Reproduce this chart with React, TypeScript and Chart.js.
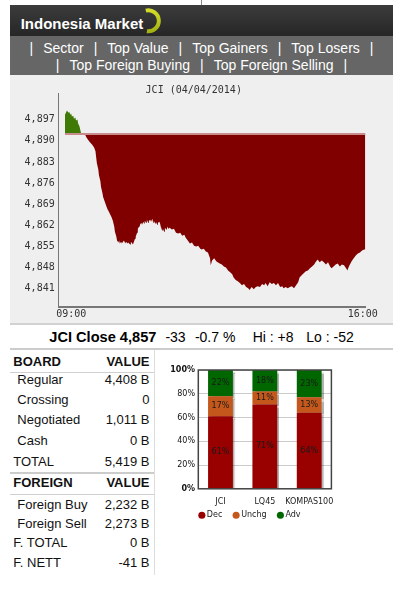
import React, { useEffect, useRef } from 'react';
import { Chart, registerables } from 'chart.js';

Chart.register(...registerables);

// ---------- Intraday JCI data (minutes from 09:00, index value) ----------
const TIME_MIN = [-9,-7,-6,-4,-3,-1,0,1,3,4,6,7,9,10,12,13,14,16,17,19,20,22,24,27,30,33,35,36,37,39,40,42,43,45,46,49,52,55,58,60,62,63,65,66,68,69,70,72,73,76,78,79,81,82,85,86,88,89,91,92,93,95,96,98,99,101,102,104,105,106,108,109,111,112,114,115,117,118,119,121,122,124,125,127,128,129,131,132,134,135,137,138,140,142,145,148,151,154,157,160,163,165,168,171,174,177,180,183,186,188,191,194,197,200,201,203,206,209,211,214,217,220,223,226,229,232,234,237,240,243,246,249,252,255,257,260,263,266,269,272,275,278,280,283,286,289,292,295,298,301,304,306,309,312,315,318,321,324,327,329,332,335,338,341,344,347,350,352,355,358,361,364,367,370,373,375,378,381,384,387,390,393,396,398,399,401,404,407,410,413,416,419,422,424];
const JCI_VALUES = [4898.6,4899.6,4900.0,4899.3,4899.6,4898.6,4899.0,4898.0,4898.3,4897.3,4897.7,4896.7,4897.0,4895.7,4894.7,4893.7,4892.7,4892.1,4892.7,4891.8,4892.1,4891.1,4890.4,4889.5,4888.8,4887.8,4886.5,4884.5,4882.6,4880.6,4878.6,4876.7,4874.7,4872.7,4871.4,4869.4,4867.5,4866.2,4864.8,4863.5,4861.6,4859.9,4858.3,4857.0,4856.3,4857.0,4856.0,4856.6,4856.0,4857.0,4856.0,4856.6,4856.0,4856.3,4855.7,4856.6,4856.0,4855.7,4857.0,4857.6,4858.3,4859.6,4860.9,4861.6,4862.2,4862.9,4862.2,4863.2,4862.6,4863.5,4862.9,4863.9,4862.9,4863.5,4863.9,4863.2,4864.2,4862.9,4863.5,4862.6,4863.2,4862.2,4862.9,4863.2,4862.6,4861.6,4860.3,4860.9,4859.9,4861.2,4860.6,4861.6,4860.9,4861.2,4860.6,4860.9,4859.6,4859.3,4859.6,4858.6,4858.9,4857.9,4857.0,4856.0,4856.3,4855.3,4855.0,4855.3,4854.3,4854.0,4854.3,4853.4,4853.0,4851.1,4848.8,4850.4,4851.1,4850.1,4849.8,4849.4,4849.1,4848.4,4848.1,4847.1,4846.5,4845.8,4844.8,4843.9,4843.5,4842.9,4842.2,4842.6,4841.6,4841.2,4840.6,4841.6,4840.9,4841.6,4841.9,4841.6,4842.6,4842.2,4842.9,4841.9,4843.2,4842.6,4842.9,4842.2,4842.9,4841.6,4841.9,4841.2,4841.6,4841.2,4841.6,4841.9,4841.2,4842.2,4843.2,4844.8,4845.5,4846.2,4846.8,4847.1,4847.8,4848.4,4849.1,4849.8,4850.7,4849.8,4850.4,4849.8,4849.1,4849.8,4848.4,4847.8,4848.4,4849.1,4849.4,4848.4,4849.1,4848.8,4847.8,4847.1,4847.8,4848.8,4850.1,4851.1,4852.0,4852.7,4853.0,4853.7,4854.0,4854.0];
const PREV_CLOSE = 4892.2;
const Y_MIN = 4835.1;
const Y_MAX = 4905.8;
const Y_TICKS = [4841, 4848, 4855, 4862, 4869, 4876, 4883, 4890, 4897];
const X_MIN = -18;
const X_MAX = 424;
const X_TICKS = [0, 420];
const X_TICK_LABELS = ['09:00', '16:00'];
const CHART_TITLE = 'JCI (04/04/2014)';

// ---------- Market breadth ----------
const BREADTH_CATEGORIES = ['JCI', 'LQ45', 'KOMPAS100'];
const DEC = [61, 71, 64];
const UNCHG = [17, 11, 13];
const ADV = [22, 18, 23];
const BREADTH_TICKS = [0, 20, 40, 60, 80, 100];

// ---------- Texts ----------
const NAV_LINE_1 = ['Sector', 'Top Value', 'Top Gainers', 'Top Losers'];
const NAV_LINE_2 = ['Top Foreign Buying', 'Top Foreign Selling'];
const BOARD_ROWS: [string, string][] = [['Regular', '4,408 B'], ['Crossing', '0'], ['Negotiated', '1,011 B'], ['Cash', '0 B']];
const BOARD_TOTAL: [string, string] = ['TOTAL', '5,419 B'];
const FOREIGN_ROWS: [string, string][] = [['Foreign Buy', '2,232 B'], ['Foreign Sell', '2,273 B']];
const FOREIGN_TOTALS: [string, string][] = [['F. TOTAL', '0 B'], ['F. NETT', '-41 B']];

const FONT = 'Arial, "Liberation Sans", Helvetica, sans-serif';
const MONO = '"DejaVu Sans Mono", "Liberation Mono", monospace';
const SMALL = '"DejaVu Sans", Verdana, sans-serif';

const barShadow = {
  id: 'barShadow',
  beforeDatasetsDraw(chart: any) {
    const c = chart.ctx;
    c.save();
    c.shadowColor = 'rgba(0,0,0,0.3)';
    c.shadowOffsetX = 2;
    c.shadowOffsetY = 2;
    c.shadowBlur = 1;
  },
  afterDatasetsDraw(chart: any) {
    chart.ctx.restore();
  },
};

const segmentLabels = {
  id: 'segmentLabels',
  afterDatasetsDraw(chart: any) {
    const ctx = chart.ctx;
    ctx.save();
    ctx.font = `8px ${SMALL}`;
    ctx.fillStyle = '#1a1a1a';
    ctx.textAlign = 'center';
    ctx.textBaseline = 'middle';
    chart.data.datasets.forEach((ds: any, di: number) => {
      chart.getDatasetMeta(di).data.forEach((el: any, i: number) => {
        const p = el.getProps(['x', 'y', 'base'], true);
        ctx.fillText(ds.data[i] + '%', p.x, (p.y + p.base) / 2);
      });
    });
    ctx.restore();
  },
};

const plotFrame = {
  id: 'plotFrame',
  afterDatasetsDraw(chart: any) {
    const { ctx, chartArea: a } = chart;
    ctx.save();
    ctx.strokeStyle = '#444';
    ctx.lineWidth = 1.5;
    ctx.strokeRect(a.left, a.top, a.right - a.left, a.bottom - a.top);
    ctx.restore();
  },
};

// tucks the legend closer to the category labels
const legendNudge = {
  id: 'legendNudge',
  afterLayout(chart: any) {
    const l = chart.legend;
    if (l) {
      l.top -= 8.5;
      l.bottom -= 8.5;
      l.left += 5;
      l.right += 5;
    }
  },
};

function NavLine({ items, top }: { items: string[]; top: number }) {
  return (
    <div style={{ position: 'absolute', left: 10, width: 383, top, textAlign: 'center', whiteSpace: 'nowrap', fontSize: 14, lineHeight: '17px', color: '#fff' }}>
      <span>|</span>
      {items.map((it) => (
        <React.Fragment key={it}>
          <span style={{ margin: '0 10px' }}>{it}</span>
          <span>|</span>
        </React.Fragment>
      ))}
    </div>
  );
}

function Row({ label, value, center, bold, indent }: { label: string; value: string; center: number; bold?: boolean; indent?: boolean }) {
  return (
    <div style={{ position: 'absolute', left: 10, width: 139.5, top: center - 10, height: 20, lineHeight: '20px', fontSize: 13, fontWeight: bold ? 'bold' : 'normal', color: '#111', whiteSpace: 'nowrap' }}>
      <span style={{ position: 'absolute', left: indent ? 7.3 : 3.3 }}>{label}</span>
      <span style={{ position: 'absolute', right: 0 }}>{value}</span>
    </div>
  );
}

function HLine({ top, left, width, h, color }: { top: number; left: number; width: number; h: number; color: string }) {
  return <div style={{ position: 'absolute', top, left, width, height: h, background: color }} />;
}

export default function App() {
  const mainRef = useRef<HTMLCanvasElement>(null);
  const breadthRef = useRef<HTMLCanvasElement>(null);

  useEffect(() => {
    const points = TIME_MIN.map((t, i) => ({ x: t, y: JCI_VALUES[i] }));
    const c1 = new Chart(mainRef.current as HTMLCanvasElement, {
      type: 'line',
      data: {
        datasets: [
          {
            label: 'Previous close',
            data: [
              { x: TIME_MIN[0], y: PREV_CLOSE },
              { x: TIME_MIN[TIME_MIN.length - 1], y: PREV_CLOSE },
            ],
            borderColor: '#c98b8b',
            borderWidth: 2,
            pointRadius: 0,
            fill: false,
            order: 0,
          },
          {
            label: 'JCI',
            data: points,
            borderColor: 'rgba(0,0,0,0)',
            borderWidth: 1,
            pointRadius: 0,
            fill: { target: { value: PREV_CLOSE }, above: '#3f7a06', below: '#800000' },
            order: 1,
          },
        ],
      } as any,
      options: {
        animation: false,
        responsive: false,
        events: [],
        layout: { padding: { left: 0, right: 27.5, top: 0, bottom: 2.3 } },
        plugins: {
          legend: { display: false },
          tooltip: { enabled: false },
          title: {
            display: true,
            text: CHART_TITLE,
            color: '#333',
            font: { family: MONO, size: 10, weight: 'normal', lineHeight: 0.6 },
            padding: { top: 12, bottom: 0 },
          },
        },
        scales: {
          x: {
            type: 'linear',
            min: X_MIN,
            max: X_MAX,
            grid: { display: false, drawTicks: false },
            border: { display: true, color: '#777', width: 2 },
            afterBuildTicks: (s: any) => { s.ticks = X_TICKS.map((v) => ({ value: v })); },
            afterFit: (s: any) => { s.height = 14; },
            ticks: {
              autoSkip: false,
              maxRotation: 0,
              padding: 2,
              color: '#333',
              font: { family: MONO, size: 10 },
              callback: (_v: any, i: number) => X_TICK_LABELS[i],
            },
          },
          y: {
            type: 'linear',
            min: Y_MIN,
            max: Y_MAX,
            grid: { display: false, drawTicks: false },
            border: { display: true, color: '#777', width: 1 },
            afterBuildTicks: (s: any) => { s.ticks = Y_TICKS.map((v) => ({ value: v })); },
            afterFit: (s: any) => { s.width = 36.7; },
            ticks: {
              padding: 4,
              color: '#333',
              font: { family: MONO, size: 10 },
              callback: (v: any) => Number(v).toLocaleString('en-US'),
            },
          },
        },
      } as any,
    });

    const c2 = new Chart(breadthRef.current as HTMLCanvasElement, {
      type: 'bar',
      data: {
        labels: BREADTH_CATEGORIES,
        datasets: [
          { label: 'Dec', data: DEC, backgroundColor: '#990000' },
          { label: 'Unchg', data: UNCHG, backgroundColor: '#c4581c' },
          { label: 'Adv', data: ADV, backgroundColor: '#006600' },
        ],
      },
      options: {
        animation: false,
        responsive: false,
        events: [],
        layout: { padding: { top: 10, right: 19.6, bottom: 0.3, left: 0 } },
        datasets: { bar: { categoryPercentage: 1, barPercentage: 0.56 } },
        plugins: {
          tooltip: { enabled: false },
          legend: {
            position: 'bottom',
            labels: {
              usePointStyle: true,
              pointStyle: 'circle',
              boxWidth: 2,
              boxHeight: 5,
              padding: 12.8,
              color: '#222',
              font: { family: SMALL, size: 8 },
            },
          },
        },
        scales: {
          x: {
            stacked: true,
            grid: { display: false, drawTicks: false },
            border: { display: false },
            afterFit: (s: any) => { s.height = 18.1; },
            ticks: { autoSkip: false, maxRotation: 0, minRotation: 0, padding: 8.5, color: '#222', font: { family: SMALL, size: 8 } },
          },
          y: {
            stacked: true,
            min: 0,
            max: 100,
            grid: { color: '#cccccc', drawTicks: false },
            border: { display: false },
            afterBuildTicks: (s: any) => { s.ticks = BREADTH_TICKS.map((v) => ({ value: v })); },
            afterFit: (s: any) => { s.width = 38.3; },
            ticks: {
              padding: 3.3,
              color: '#111',
              font: (ctx: any) => ({
                family: SMALL,
                size: 8,
                weight: ctx.tick && (ctx.tick.value === 0 || ctx.tick.value === 100) ? 'bold' : 'normal',
              }),
              callback: (v: any) => v + '%',
            },
          },
        },
      } as any,
      plugins: [barShadow, segmentLabels, plotFrame, legendNudge],
    });

    return () => {
      c1.destroy();
      c2.destroy();
    };
  }, []);

  return (
    <div style={{ position: 'absolute', left: 0, top: 0, width: 412, height: 596, background: '#fff', fontFamily: FONT, overflow: 'hidden' }}>
      {/* top divider */}
      <div style={{ position: 'absolute', left: 201, top: 0, width: 1, height: 5, background: '#888' }} />

      {/* header */}
      <div style={{ position: 'absolute', left: 10, top: 5, width: 383, height: 31, background: 'linear-gradient(#3c3c3c, #262626)' }} />
      <div style={{ position: 'absolute', left: 20.7, top: 15.6, fontSize: 15, lineHeight: '15px', fontWeight: 'bold', color: '#fff', whiteSpace: 'nowrap' }}>Indonesia Market</div>
      <svg style={{ position: 'absolute', left: 0, top: 0 }} width={412} height={40}>
        <defs>
          <linearGradient id="lg" x1="0" y1="0" x2="0" y2="1">
            <stop offset="0" stopColor="#d3dc2a" />
            <stop offset="1" stopColor="#a4b214" />
          </linearGradient>
        </defs>
        <path d="M145.8 10.6 A10.5 10.5 0 1 1 146.9 31.2" fill="none" stroke="url(#lg)" strokeWidth={4} />
      </svg>

      {/* nav */}
      <div style={{ position: 'absolute', left: 10, top: 36, width: 383, height: 39, background: '#666' }} />
      <NavLine items={NAV_LINE_1} top={39.65} />
      <NavLine items={NAV_LINE_2} top={56.65} />

      {/* chart area */}
      <div style={{ position: 'absolute', left: 10, top: 75, width: 383, height: 248, background: '#efefef' }} />
      <canvas ref={mainRef} width={371} height={248} style={{ position: 'absolute', left: 22, top: 75, display: 'block' }} />
      <HLine top={323} left={10} width={383} h={2} color="#d2d2d2" />

      {/* summary */}
      <div style={{ position: 'absolute', left: 49.3, top: 326.9, height: 20, lineHeight: '20px', fontSize: 14, color: '#000', whiteSpace: 'nowrap' }}>
        <span style={{ fontWeight: 'bold', fontSize: 14.6 }}>JCI Close 4,857</span>
        <span style={{ marginLeft: 9 }}>-33</span>
        <span style={{ marginLeft: 9.3 }}>-0.7 %</span>
        <span style={{ marginLeft: 17.3 }}>Hi : +8</span>
        <span style={{ marginLeft: 12.7 }}>Lo : -52</span>
      </div>
      <HLine top={348} left={10} width={383} h={2} color="#cccccc" />

      {/* table */}
      <div style={{ position: 'absolute', left: 154, top: 350, width: 1, height: 225, background: '#dddddd' }} />
      <Row label="BOARD" value="VALUE" center={361.7} bold />
      <HLine top={371.5} left={10} width={144} h={1} color="#d0d0d0" />
      {BOARD_ROWS.map(([l, v], i) => (
        <Row key={l} label={l} value={v} center={380 + i * 20.2} indent />
      ))}
      <Row label={BOARD_TOTAL[0]} value={BOARD_TOTAL[1]} center={461.7} />
      <HLine top={471.5} left={10} width={144} h={2} color="#cccccc" />
      <Row label="FOREIGN" value="VALUE" center={483.3} bold />
      <HLine top={493.5} left={10} width={144} h={1} color="#d0d0d0" />
      {FOREIGN_ROWS.map(([l, v], i) => (
        <Row key={l} label={l} value={v} center={505 + i * 19.2} indent />
      ))}
      {FOREIGN_TOTALS.map(([l, v], i) => (
        <Row key={l} label={l} value={v} center={543.3 + i * 20} />
      ))}

      {/* breadth chart */}
      <canvas ref={breadthRef} width={191} height={178.5} style={{ position: 'absolute', left: 160, top: 360, display: 'block' }} />
    </div>
  );
}
